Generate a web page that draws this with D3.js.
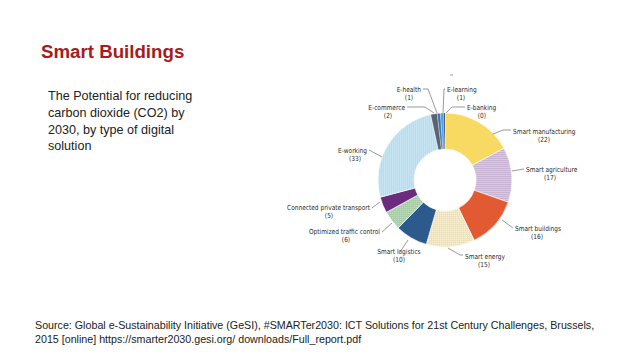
<!DOCTYPE html>
<html><head><meta charset="utf-8">
<script src="https://cdn.jsdelivr.net/npm/d3@7"></script>
<style>
html,body{margin:0;padding:0;background:#fff;}
svg{display:block;}
</style></head>
<body>
<script>
// ---- data ----
const categories = ["Smart manufacturing","Smart agriculture","Smart buildings","Smart energy","Smart logistics","Optimized traffic control","Connected private transport","E-working","E-commerce","E-health","E-learning","E-banking"];
const values = [22,17,16,15,10,6,5,33,2,1,1,0];
const colors = ["#f8da62","#d9c8e3","#e15a31","#fdf1cc","#2c5a8d","#b7dcb6","#6b2c7e","#c6e4f1","#5c6370","#3b76bb","#4f9fe2","#1b2a4e"];
const patterns = [null,"hlines",null,"grid",null,"grid",null,"vlines",null,null,null,null];
const titleText = "Smart Buildings";
const subtitleLines = ["The Potential for reducing","carbon dioxide (CO2) by","2030, by type of digital","solution"];
const sourceLines = ["Source: Global e-Sustainability Initiative (GeSI), #SMARTer2030: ICT Solutions for 21st Century Challenges, Brussels,","2015 [online] https://smarter2030.gesi.org/ downloads/Full_report.pdf"];

// label layout (relative to chart centre): text anchor point, alignment, leader path
const labelLayout = [
  {x:68,y:-49,anchor:"start",vx:99,leader:[[48,-46],[58,-50],[66,-50]]},
  {x:81,y:-11,anchor:"start",vx:105,leader:[[67,-9],[79,-11]]},
  {x:70,y:49,anchor:"start",vx:92,leader:[[57,40],[68,48]]},
  {x:20,y:77,anchor:"start",vx:39,leader:[[3,68],[15,75],[18,75]]},
  {x:-46,y:72,anchor:"middle",vx:-46,leader:[[-37,60],[-45,72]]},
  {x:-65,y:52,anchor:"end",vx:-99,leader:[[-53,43],[-63,52]]},
  {x:-75,y:28,anchor:"end",vx:-116,leader:[[-65,22],[-73,28]]},
  {x:-78,y:-30,anchor:"end",vx:-90,leader:[[-63,-23],[-76,-30]]},
  {x:-40,y:-73,anchor:"end",vx:-57,leader:[[-11,-67],[-20,-73],[-38,-73]]},
  {x:-24,y:-91,anchor:"end",vx:-36,leader:[[-8,-67],[-17,-91],[-22,-91]]},
  {x:2,y:-91,anchor:"start",vx:16,leader:[[-2,-67],[-1,-91],[0,-91]]},
  {x:22,y:-73,anchor:"start",vx:37,leader:[[1,-67],[7,-73],[20,-73]]}
];

const W = 638, H = 359;
const svg = d3.select("body").append("svg").attr("width",W).attr("height",H);

// patterns
const defs = svg.append("defs");
function addPattern(id, base, line, kind){
  const p = defs.append("pattern").attr("id",id).attr("patternUnits","userSpaceOnUse")
    .attr("width",2).attr("height",2);
  p.append("rect").attr("width",2).attr("height",2).attr("fill",base);
  if(kind==="hlines") p.append("rect").attr("width",2).attr("height",0.8).attr("fill",line);
  if(kind==="vlines") p.append("rect").attr("width",0.8).attr("height",2).attr("fill",line);
  if(kind==="grid"){ p.append("rect").attr("width",2).attr("height",0.6).attr("fill",line);
                     p.append("rect").attr("width",0.6).attr("height",2).attr("fill",line);}
}
const lineColors = {hlines:"#c4aed2", vlines:"#b4dbeb", grid:"#ffffff"};
values.forEach((v,i)=>{
  if(patterns[i]) addPattern("pat"+i, colors[i], patterns[i]==="grid" ? d3.color(colors[i]).darker(0.25) : lineColors[patterns[i]], patterns[i]);
});

// title & text
svg.append("text").attr("x",41).attr("y",58).text(titleText)
  .attr("font-family","Liberation Sans, Arial, sans-serif").attr("font-weight","bold")
  .attr("font-size",18.7).attr("fill","#a61c1c");
svg.append("g").selectAll("text").data(subtitleLines).join("text")
  .attr("x",48).attr("y",(d,i)=>100+i*16.8).text(d=>d)
  .attr("font-family","Liberation Sans, Arial, sans-serif").attr("font-size",12.6).attr("fill","#222");
svg.append("g").selectAll("text").data(sourceLines).join("text")
  .attr("x",35).attr("y",(d,i)=>329+i*14).text(d=>d)
  .attr("font-family","Liberation Sans, Arial, sans-serif").attr("font-size",10.7).attr("fill","#222");

// donut
const cx = 445, cy = 180, rOuter = 67, rInner = 31;
const g = svg.append("g").attr("transform",`translate(${cx},${cy})`);
const pie = d3.pie().sort(null).value(d=>Math.max(d,0.4)).startAngle(0).endAngle(2*Math.PI);
const arcs = pie(values);
const arc = d3.arc().innerRadius(rInner).outerRadius(rOuter);
g.selectAll("path.slice").data(arcs).join("path").attr("class","slice")
  .attr("d",arc)
  .attr("fill",(d,i)=>patterns[i] ? `url(#pat${i})` : colors[i])
  .attr("stroke","#fff").attr("stroke-width",(d,i)=>i>=8?0.3:0.6);

// leaders & labels
const lbl = g.append("g");
const line = d3.line();
const sx = 0.93;
labelLayout.forEach((L,i)=>{
  lbl.append("path").attr("d",line(L.leader)).attr("fill","none").attr("stroke","#555").attr("stroke-width",0.6);
  const t = lbl.append("text").attr("font-family","DejaVu Sans Condensed, Liberation Sans Narrow, Roboto Condensed, Arial Narrow, sans-serif")
    .attr("font-size",7).attr("fill","#2a2a2a")
    .attr("transform",`translate(${L.x},0) scale(${sx},1) translate(${-L.x},0)`);
  t.append("tspan").attr("x",L.x).attr("y",L.y+2.5).attr("text-anchor",L.anchor).text(categories[i]);
  t.append("tspan").attr("x",L.x+(L.vx-L.x)/sx).attr("y",L.y+10.5).attr("text-anchor","middle").text(`(${values[i]})`);
});
// small dash mark above chart
svg.append("line").attr("x1",450).attr("x2",453).attr("y1",75).attr("y2",75).attr("stroke","#888").attr("stroke-width",0.8);
</script>
</body></html>
